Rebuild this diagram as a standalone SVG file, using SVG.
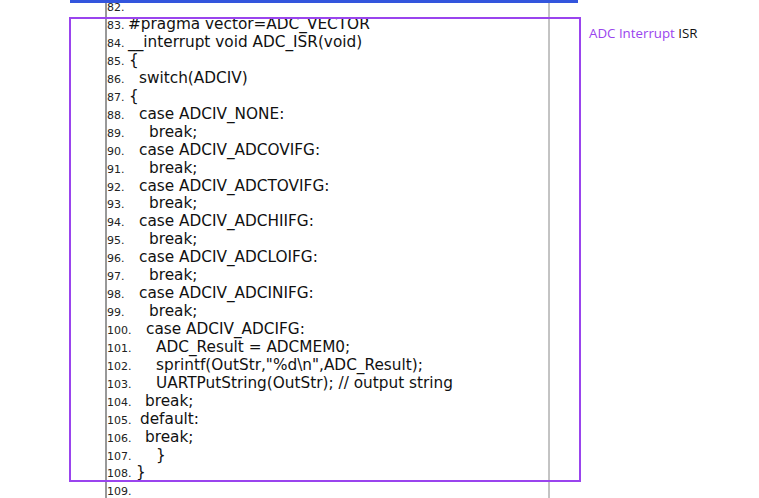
<svg xmlns="http://www.w3.org/2000/svg" width="759" height="498" viewBox="0 0 759 498">
<style>
.n{font-family:"DejaVu Sans",sans-serif;font-size:11px;fill:#222}
.c{font-family:"DejaVu Sans",sans-serif;font-size:15.3px;fill:#111}
</style>
<rect width="759" height="498" fill="#fff"/>
<g id="page">
<line x1="106" y1="0" x2="106" y2="498" stroke="#333" stroke-width="1"/>
<line x1="549" y1="0" x2="549" y2="498" stroke="#888" stroke-width="1"/>
<line x1="70" y1="1.5" x2="578" y2="1.5" stroke="#3355dd" stroke-width="3"/>
</g>
<g id="code">
<text class="n" x="107" y="11">82.</text>
<text class="n" x="107" y="29">83.</text><text class="c" x="128" y="29">#pragma vector=ADC_VECTOR</text>
<text class="n" x="107" y="47">84.</text><text class="c" x="128" y="47">__interrupt void ADC_ISR(void)</text>
<text class="n" x="107" y="65">85.</text><text class="c" x="129" y="65">{</text>
<text class="n" x="107" y="83">86.</text><text class="c" x="139" y="83">switch(ADCIV)</text>
<text class="n" x="107" y="101">87.</text><text class="c" x="129" y="101">{</text>
<text class="n" x="107" y="119">88.</text><text class="c" x="139" y="119">case ADCIV_NONE:</text>
<text class="n" x="107" y="137">89.</text><text class="c" x="149" y="137">break;</text>
<text class="n" x="107" y="155">90.</text><text class="c" x="139" y="155">case ADCIV_ADCOVIFG:</text>
<text class="n" x="107" y="173">91.</text><text class="c" x="149" y="173">break;</text>
<text class="n" x="107" y="191">92.</text><text class="c" x="139" y="191">case ADCIV_ADCTOVIFG:</text>
<text class="n" x="107" y="208">93.</text><text class="c" x="149" y="208">break;</text>
<text class="n" x="107" y="226">94.</text><text class="c" x="139" y="226">case ADCIV_ADCHIIFG:</text>
<text class="n" x="107" y="244">95.</text><text class="c" x="149" y="244">break;</text>
<text class="n" x="107" y="262">96.</text><text class="c" x="139" y="262">case ADCIV_ADCLOIFG:</text>
<text class="n" x="107" y="280">97.</text><text class="c" x="149" y="280">break;</text>
<text class="n" x="107" y="298">98.</text><text class="c" x="139" y="298">case ADCIV_ADCINIFG:</text>
<text class="n" x="107" y="316">99.</text><text class="c" x="149" y="316">break;</text>
<text class="n" x="107" y="334">100.</text><text class="c" x="146" y="334">case ADCIV_ADCIFG:</text>
<text class="n" x="107" y="352">101.</text><text class="c" x="156" y="352">ADC_Result = ADCMEM0;</text>
<text class="n" x="107" y="370">102.</text><text class="c" x="156" y="370">sprintf(OutStr,"%d\n",ADC_Result);</text>
<text class="n" x="107" y="388">103.</text><text class="c" x="156" y="388">UARTPutString(OutStr); // output string</text>
<text class="n" x="107" y="406">104.</text><text class="c" x="145" y="406">break;</text>
<text class="n" x="107" y="424">105.</text><text class="c" x="140" y="424">default:</text>
<text class="n" x="107" y="442">106.</text><text class="c" x="145" y="442">break;</text>
<text class="n" x="107" y="460">107.</text><text class="c" x="156" y="460">}</text>
<text class="n" x="107" y="477">108.</text><text class="c" x="136" y="477">}</text>
<text class="n" x="107" y="495">109.</text>
</g>
<g id="isr">
<rect x="70" y="18" width="510" height="463" fill="none" stroke="#9a44ee" stroke-width="2"/>
<text x="589" y="38" font-family="'Open Sans',sans-serif" font-size="13.3" fill="#9a44ee">ADC Interrupt <tspan fill="#111">ISR</tspan></text>
</g>
</svg>
